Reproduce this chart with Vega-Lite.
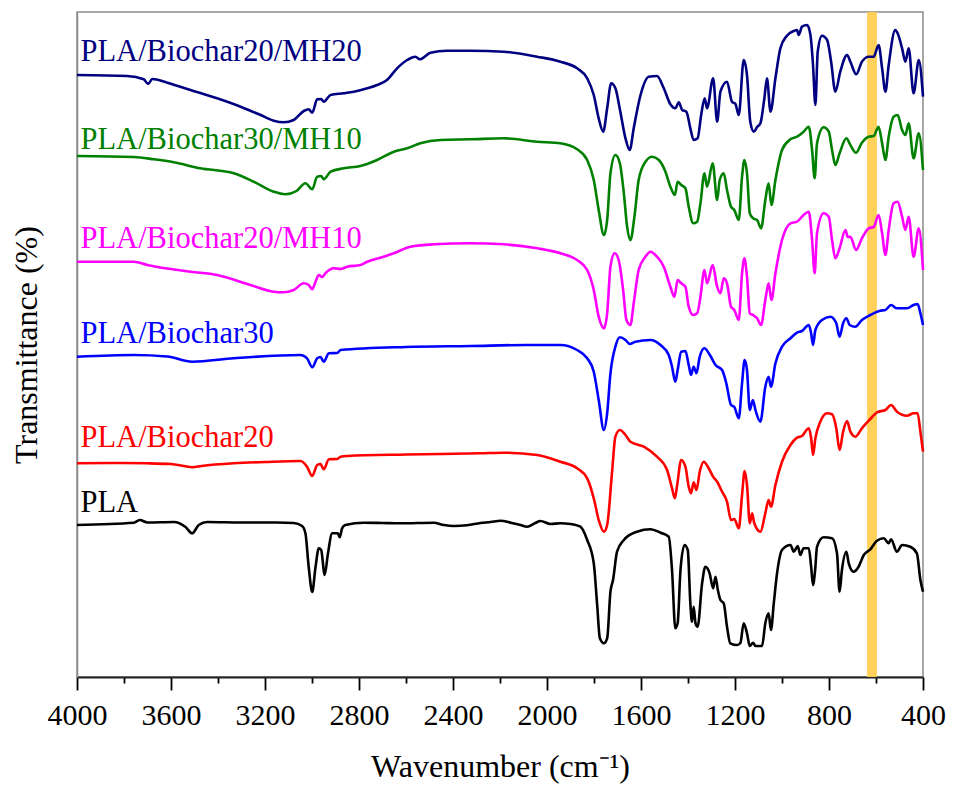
{
  "$schema": "https://vega.github.io/schema/vega-lite/v6.json",
  "width": 846,
  "height": 665,
  "autosize": {"type": "none"},
  "padding": {"left": 77, "top": 12, "right": 32, "bottom": 116},
  "config": {
    "view": {"stroke": "#8c8c8c", "strokeWidth": 1.5},
    "font": "Liberation Serif"
  },
  "datasets": {
    "band": [{"w": 638, "w2": 596}],
    "labels": [
      {"s": "PLA/Biochar20/MH20", "w": 3985, "t": 616},
      {"s": "PLA/Biochar30/MH10", "w": 3985, "t": 527.7},
      {"s": "PLA/Biochar20/MH10", "w": 3985, "t": 428.7},
      {"s": "PLA/Biochar30", "w": 3985, "t": 334.3},
      {"s": "PLA/Biochar20", "w": 3985, "t": 229.7},
      {"s": "PLA", "w": 3985, "t": 164.7}
    ],
    "spectra": [
      {"s":"PLA","w":4000,"t":152},{"s":"PLA","w":3758,"t":154.3},{"s":"PLA","w":3733,"t":157},{"s":"PLA","w":3700,"t":154.5},{"s":"PLA","w":3588,"t":155},{"s":"PLA","w":3538,"t":150},{"s":"PLA","w":3510,"t":143.7},{"s":"PLA","w":3482,"t":152},{"s":"PLA","w":3446,"t":155},{"s":"PLA","w":3300,"t":154.5},{"s":"PLA","w":3150,"t":154.5},{"s":"PLA","w":3078,"t":154},{"s":"PLA","w":3042,"t":151},{"s":"PLA","w":3028,"t":143.7},{"s":"PLA","w":3014,"t":110},{"s":"PLA","w":2999,"t":85},{"s":"PLA","w":2985,"t":110},{"s":"PLA","w":2971,"t":128.7},{"s":"PLA","w":2961,"t":127},{"s":"PLA","w":2946,"t":102},{"s":"PLA","w":2933,"t":122},{"s":"PLA","w":2914,"t":143.7},{"s":"PLA","w":2890,"t":143.7},{"s":"PLA","w":2882,"t":139.7},{"s":"PLA","w":2872,"t":148.7},{"s":"PLA","w":2858,"t":152},{"s":"PLA","w":2780,"t":154.3},{"s":"PLA","w":2700,"t":154},{"s":"PLA","w":2624,"t":153.7},{"s":"PLA","w":2482,"t":154.3},{"s":"PLA","w":2439,"t":152},{"s":"PLA","w":2397,"t":151},{"s":"PLA","w":2340,"t":151.7},{"s":"PLA","w":2283,"t":154},{"s":"PLA","w":2240,"t":155},{"s":"PLA","w":2198,"t":156.3},{"s":"PLA","w":2150,"t":154},{"s":"PLA","w":2113,"t":152},{"s":"PLA","w":2085,"t":150.3},{"s":"PLA","w":2050,"t":154},{"s":"PLA","w":2028,"t":156},{"s":"PLA","w":1985,"t":153},{"s":"PLA","w":1943,"t":153.7},{"s":"PLA","w":1900,"t":153},{"s":"PLA","w":1858,"t":150.3},{"s":"PLA","w":1829,"t":137},{"s":"PLA","w":1801,"t":113.7},{"s":"PLA","w":1787,"t":73.7},{"s":"PLA","w":1775,"t":38.7},{"s":"PLA","w":1758,"t":33.7},{"s":"PLA","w":1744,"t":38.7},{"s":"PLA","w":1730,"t":85.3},{"s":"PLA","w":1719,"t":97},{"s":"PLA","w":1702,"t":125.3},{"s":"PLA","w":1673,"t":137},{"s":"PLA","w":1617,"t":145.3},{"s":"PLA","w":1560,"t":147.7},{"s":"PLA","w":1517,"t":144.3},{"s":"PLA","w":1482,"t":140.3},{"s":"PLA","w":1468,"t":107},{"s":"PLA","w":1454,"t":48.7},{"s":"PLA","w":1444,"t":53.7},{"s":"PLA","w":1432,"t":107},{"s":"PLA","w":1415,"t":132},{"s":"PLA","w":1401,"t":127},{"s":"PLA","w":1390,"t":73.7},{"s":"PLA","w":1383,"t":55.3},{"s":"PLA","w":1376,"t":70.3},{"s":"PLA","w":1368,"t":53.7},{"s":"PLA","w":1359,"t":50.3},{"s":"PLA","w":1340,"t":93.7},{"s":"PLA","w":1326,"t":110.3},{"s":"PLA","w":1308,"t":103.7},{"s":"PLA","w":1293,"t":88.7},{"s":"PLA","w":1283,"t":100.3},{"s":"PLA","w":1273,"t":87},{"s":"PLA","w":1262,"t":77},{"s":"PLA","w":1248,"t":73.7},{"s":"PLA","w":1234,"t":50.3},{"s":"PLA","w":1220,"t":33.7},{"s":"PLA","w":1191,"t":32},{"s":"PLA","w":1177,"t":34},{"s":"PLA","w":1163,"t":53.7},{"s":"PLA","w":1149,"t":43.7},{"s":"PLA","w":1137,"t":31},{"s":"PLA","w":1123,"t":34.3},{"s":"PLA","w":1113,"t":31},{"s":"PLA","w":1085,"t":31},{"s":"PLA","w":1071,"t":53.7},{"s":"PLA","w":1057,"t":63.7},{"s":"PLA","w":1047,"t":47},{"s":"PLA","w":1035,"t":73.7},{"s":"PLA","w":1021,"t":103.7},{"s":"PLA","w":1000,"t":127},{"s":"PLA","w":964,"t":132},{"s":"PLA","w":950,"t":125.3},{"s":"PLA","w":933,"t":131},{"s":"PLA","w":922,"t":122},{"s":"PLA","w":908,"t":128.7},{"s":"PLA","w":886,"t":128.7},{"s":"PLA","w":876,"t":110.3},{"s":"PLA","w":868,"t":92},{"s":"PLA","w":859,"t":107},{"s":"PLA","w":851,"t":130.3},{"s":"PLA","w":823,"t":139.7},{"s":"PLA","w":787,"t":138.7},{"s":"PLA","w":766,"t":123.7},{"s":"PLA","w":755,"t":85.3},{"s":"PLA","w":745,"t":107},{"s":"PLA","w":726,"t":125.3},{"s":"PLA","w":716,"t":113.7},{"s":"PLA","w":695,"t":105.3},{"s":"PLA","w":674,"t":110.3},{"s":"PLA","w":652,"t":122},{"s":"PLA","w":624,"t":127.7},{"s":"PLA","w":596,"t":136.3},{"s":"PLA","w":567,"t":138.7},{"s":"PLA","w":546,"t":133.7},{"s":"PLA","w":536,"t":137.7},{"s":"PLA","w":511,"t":125.3},{"s":"PLA","w":489,"t":132},{"s":"PLA","w":454,"t":130.3},{"s":"PLA","w":426,"t":123.7},{"s":"PLA","w":411,"t":97},{"s":"PLA","w":400,"t":85.3},

      {"s":"PLA/Biochar20","w":4000,"t":213.7},{"s":"PLA/Biochar20","w":3850,"t":214},{"s":"PLA/Biochar20","w":3701,"t":213.7},{"s":"PLA/Biochar20","w":3600,"t":213},{"s":"PLA/Biochar20","w":3545,"t":211},{"s":"PLA/Biochar20","w":3510,"t":209.7},{"s":"PLA/Biochar20","w":3470,"t":211},{"s":"PLA/Biochar20","w":3333,"t":213.7},{"s":"PLA/Biochar20","w":3200,"t":215},{"s":"PLA/Biochar20","w":3049,"t":216},{"s":"PLA/Biochar20","w":3021,"t":210.3},{"s":"PLA/Biochar20","w":2999,"t":201},{"s":"PLA/Biochar20","w":2978,"t":212},{"s":"PLA/Biochar20","w":2964,"t":213},{"s":"PLA/Biochar20","w":2950,"t":207.7},{"s":"PLA/Biochar20","w":2928,"t":217.7},{"s":"PLA/Biochar20","w":2893,"t":218},{"s":"PLA/Biochar20","w":2878,"t":220.3},{"s":"PLA/Biochar20","w":2850,"t":221},{"s":"PLA/Biochar20","w":2600,"t":222.5},{"s":"PLA/Biochar20","w":2283,"t":223.7},{"s":"PLA/Biochar20","w":2184,"t":224.3},{"s":"PLA/Biochar20","w":2042,"t":222},{"s":"PLA/Biochar20","w":1943,"t":215.3},{"s":"PLA/Biochar20","w":1872,"t":208.7},{"s":"PLA/Biochar20","w":1829,"t":198.7},{"s":"PLA/Biochar20","w":1801,"t":178.7},{"s":"PLA/Biochar20","w":1780,"t":157},{"s":"PLA/Biochar20","w":1758,"t":145.3},{"s":"PLA/Biochar20","w":1744,"t":152},{"s":"PLA/Biochar20","w":1723,"t":205.3},{"s":"PLA/Biochar20","w":1709,"t":240.3},{"s":"PLA/Biochar20","w":1690,"t":247},{"s":"PLA/Biochar20","w":1666,"t":242},{"s":"PLA/Biochar20","w":1645,"t":235.3},{"s":"PLA/Biochar20","w":1588,"t":230.3},{"s":"PLA/Biochar20","w":1532,"t":220.3},{"s":"PLA/Biochar20","w":1489,"t":207},{"s":"PLA/Biochar20","w":1468,"t":188.7},{"s":"PLA/Biochar20","w":1456,"t":178.7},{"s":"PLA/Biochar20","w":1446,"t":192},{"s":"PLA/Biochar20","w":1429,"t":217},{"s":"PLA/Biochar20","w":1411,"t":210.3},{"s":"PLA/Biochar20","w":1397,"t":190.3},{"s":"PLA/Biochar20","w":1387,"t":183.7},{"s":"PLA/Biochar20","w":1376,"t":194.7},{"s":"PLA/Biochar20","w":1364,"t":187},{"s":"PLA/Biochar20","w":1350,"t":205.3},{"s":"PLA/Biochar20","w":1333,"t":215.3},{"s":"PLA/Biochar20","w":1312,"t":208.7},{"s":"PLA/Biochar20","w":1293,"t":200.3},{"s":"PLA/Biochar20","w":1276,"t":195.3},{"s":"PLA/Biochar20","w":1255,"t":185.3},{"s":"PLA/Biochar20","w":1234,"t":175.3},{"s":"PLA/Biochar20","w":1217,"t":157},{"s":"PLA/Biochar20","w":1203,"t":158},{"s":"PLA/Biochar20","w":1184,"t":148.7},{"s":"PLA/Biochar20","w":1170,"t":182},{"s":"PLA/Biochar20","w":1159,"t":206},{"s":"PLA/Biochar20","w":1149,"t":192},{"s":"PLA/Biochar20","w":1137,"t":153.7},{"s":"PLA/Biochar20","w":1127,"t":163.7},{"s":"PLA/Biochar20","w":1118,"t":153.7},{"s":"PLA/Biochar20","w":1092,"t":145.3},{"s":"PLA/Biochar20","w":1071,"t":163.7},{"s":"PLA/Biochar20","w":1057,"t":177},{"s":"PLA/Biochar20","w":1047,"t":170.3},{"s":"PLA/Biochar20","w":1028,"t":192},{"s":"PLA/Biochar20","w":1000,"t":215.3},{"s":"PLA/Biochar20","w":964,"t":232},{"s":"PLA/Biochar20","w":936,"t":239.3},{"s":"PLA/Biochar20","w":915,"t":241},{"s":"PLA/Biochar20","w":886,"t":248.7},{"s":"PLA/Biochar20","w":876,"t":238.7},{"s":"PLA/Biochar20","w":868,"t":222},{"s":"PLA/Biochar20","w":858,"t":238.7},{"s":"PLA/Biochar20","w":837,"t":255.3},{"s":"PLA/Biochar20","w":808,"t":263.7},{"s":"PLA/Biochar20","w":787,"t":262.7},{"s":"PLA/Biochar20","w":769,"t":248.7},{"s":"PLA/Biochar20","w":755,"t":227},{"s":"PLA/Biochar20","w":740,"t":245.3},{"s":"PLA/Biochar20","w":723,"t":256},{"s":"PLA/Biochar20","w":709,"t":245.3},{"s":"PLA/Biochar20","w":688,"t":240.3},{"s":"PLA/Biochar20","w":660,"t":248.7},{"s":"PLA/Biochar20","w":624,"t":258},{"s":"PLA/Biochar20","w":596,"t":264.7},{"s":"PLA/Biochar20","w":560,"t":267},{"s":"PLA/Biochar20","w":536,"t":272},{"s":"PLA/Biochar20","w":511,"t":265.3},{"s":"PLA/Biochar20","w":468,"t":261.3},{"s":"PLA/Biochar20","w":440,"t":263.7},{"s":"PLA/Biochar20","w":423,"t":263.7},{"s":"PLA/Biochar20","w":411,"t":245.3},{"s":"PLA/Biochar20","w":400,"t":225.3},

      {"s":"PLA/Biochar30","w":4000,"t":320.3},{"s":"PLA/Biochar30","w":3758,"t":322},{"s":"PLA/Biochar30","w":3616,"t":320.5},{"s":"PLA/Biochar30","w":3510,"t":315.3},{"s":"PLA/Biochar30","w":3333,"t":318.7},{"s":"PLA/Biochar30","w":3049,"t":322},{"s":"PLA/Biochar30","w":3021,"t":318.7},{"s":"PLA/Biochar30","w":2999,"t":309.7},{"s":"PLA/Biochar30","w":2978,"t":318.7},{"s":"PLA/Biochar30","w":2964,"t":320},{"s":"PLA/Biochar30","w":2950,"t":315.3},{"s":"PLA/Biochar30","w":2928,"t":323.7},{"s":"PLA/Biochar30","w":2893,"t":324},{"s":"PLA/Biochar30","w":2878,"t":327},{"s":"PLA/Biochar30","w":2600,"t":330},{"s":"PLA/Biochar30","w":2326,"t":331},{"s":"PLA/Biochar30","w":2085,"t":332},{"s":"PLA/Biochar30","w":1943,"t":332},{"s":"PLA/Biochar30","w":1872,"t":327},{"s":"PLA/Biochar30","w":1829,"t":318.7},{"s":"PLA/Biochar30","w":1801,"t":305.3},{"s":"PLA/Biochar30","w":1780,"t":277},{"s":"PLA/Biochar30","w":1758,"t":247},{"s":"PLA/Biochar30","w":1744,"t":263.7},{"s":"PLA/Biochar30","w":1730,"t":303.7},{"s":"PLA/Biochar30","w":1709,"t":330.3},{"s":"PLA/Biochar30","w":1690,"t":339.7},{"s":"PLA/Biochar30","w":1666,"t":337},{"s":"PLA/Biochar30","w":1648,"t":333},{"s":"PLA/Biochar30","w":1624,"t":335.3},{"s":"PLA/Biochar30","w":1560,"t":337},{"s":"PLA/Biochar30","w":1517,"t":332},{"s":"PLA/Biochar30","w":1482,"t":322},{"s":"PLA/Biochar30","w":1468,"t":310.3},{"s":"PLA/Biochar30","w":1454,"t":295.3},{"s":"PLA/Biochar30","w":1444,"t":307},{"s":"PLA/Biochar30","w":1429,"t":325.3},{"s":"PLA/Biochar30","w":1411,"t":326},{"s":"PLA/Biochar30","w":1397,"t":312},{"s":"PLA/Biochar30","w":1387,"t":302},{"s":"PLA/Biochar30","w":1376,"t":310.3},{"s":"PLA/Biochar30","w":1364,"t":303.7},{"s":"PLA/Biochar30","w":1350,"t":320.3},{"s":"PLA/Biochar30","w":1330,"t":328.7},{"s":"PLA/Biochar30","w":1307,"t":322},{"s":"PLA/Biochar30","w":1283,"t":312},{"s":"PLA/Biochar30","w":1255,"t":307},{"s":"PLA/Biochar30","w":1237,"t":293.7},{"s":"PLA/Biochar30","w":1217,"t":272},{"s":"PLA/Biochar30","w":1203,"t":270},{"s":"PLA/Biochar30","w":1184,"t":258.7},{"s":"PLA/Biochar30","w":1170,"t":293.7},{"s":"PLA/Biochar30","w":1159,"t":317},{"s":"PLA/Biochar30","w":1149,"t":307},{"s":"PLA/Biochar30","w":1137,"t":267},{"s":"PLA/Biochar30","w":1124,"t":277},{"s":"PLA/Biochar30","w":1113,"t":267},{"s":"PLA/Biochar30","w":1092,"t":255.3},{"s":"PLA/Biochar30","w":1071,"t":290.3},{"s":"PLA/Biochar30","w":1057,"t":300.3},{"s":"PLA/Biochar30","w":1047,"t":290.3},{"s":"PLA/Biochar30","w":1028,"t":313.7},{"s":"PLA/Biochar30","w":1000,"t":330.3},{"s":"PLA/Biochar30","w":964,"t":338.7},{"s":"PLA/Biochar30","w":936,"t":344.3},{"s":"PLA/Biochar30","w":915,"t":346},{"s":"PLA/Biochar30","w":886,"t":352},{"s":"PLA/Biochar30","w":876,"t":343.7},{"s":"PLA/Biochar30","w":868,"t":332},{"s":"PLA/Biochar30","w":858,"t":347},{"s":"PLA/Biochar30","w":830,"t":357},{"s":"PLA/Biochar30","w":794,"t":360.3},{"s":"PLA/Biochar30","w":769,"t":353.7},{"s":"PLA/Biochar30","w":755,"t":340.3},{"s":"PLA/Biochar30","w":740,"t":353.7},{"s":"PLA/Biochar30","w":726,"t":358.7},{"s":"PLA/Biochar30","w":712,"t":352},{"s":"PLA/Biochar30","w":688,"t":350.3},{"s":"PLA/Biochar30","w":660,"t":357},{"s":"PLA/Biochar30","w":624,"t":362},{"s":"PLA/Biochar30","w":582,"t":366.3},{"s":"PLA/Biochar30","w":560,"t":367},{"s":"PLA/Biochar30","w":536,"t":372},{"s":"PLA/Biochar30","w":511,"t":368.7},{"s":"PLA/Biochar30","w":468,"t":368.7},{"s":"PLA/Biochar30","w":440,"t":372},{"s":"PLA/Biochar30","w":423,"t":373},{"s":"PLA/Biochar30","w":411,"t":363.7},{"s":"PLA/Biochar30","w":400,"t":352},

      {"s":"PLA/Biochar20/MH10","w":4000,"t":415.3},{"s":"PLA/Biochar20/MH10","w":3758,"t":415.3},{"s":"PLA/Biochar20/MH10","w":3701,"t":412},{"s":"PLA/Biochar20/MH10","w":3517,"t":405.3},{"s":"PLA/Biochar20/MH10","w":3404,"t":402},{"s":"PLA/Biochar20/MH10","w":3262,"t":392},{"s":"PLA/Biochar20/MH10","w":3163,"t":385.3},{"s":"PLA/Biochar20/MH10","w":3120,"t":384.7},{"s":"PLA/Biochar20/MH10","w":3078,"t":387},{"s":"PLA/Biochar20/MH10","w":3035,"t":393.7},{"s":"PLA/Biochar20/MH10","w":3014,"t":392},{"s":"PLA/Biochar20/MH10","w":2999,"t":387.7},{"s":"PLA/Biochar20/MH10","w":2985,"t":395.3},{"s":"PLA/Biochar20/MH10","w":2971,"t":402},{"s":"PLA/Biochar20/MH10","w":2957,"t":400},{"s":"PLA/Biochar20/MH10","w":2943,"t":403.7},{"s":"PLA/Biochar20/MH10","w":2907,"t":408.7},{"s":"PLA/Biochar20/MH10","w":2878,"t":408},{"s":"PLA/Biochar20/MH10","w":2850,"t":410.3},{"s":"PLA/Biochar20/MH10","w":2794,"t":412},{"s":"PLA/Biochar20/MH10","w":2765,"t":415.3},{"s":"PLA/Biochar20/MH10","w":2695,"t":420.3},{"s":"PLA/Biochar20/MH10","w":2652,"t":423.7},{"s":"PLA/Biochar20/MH10","w":2581,"t":430.3},{"s":"PLA/Biochar20/MH10","w":2482,"t":432.7},{"s":"PLA/Biochar20/MH10","w":2326,"t":433.7},{"s":"PLA/Biochar20/MH10","w":2184,"t":432.7},{"s":"PLA/Biochar20/MH10","w":2042,"t":428.7},{"s":"PLA/Biochar20/MH10","w":1943,"t":423.7},{"s":"PLA/Biochar20/MH10","w":1872,"t":417},{"s":"PLA/Biochar20/MH10","w":1829,"t":407},{"s":"PLA/Biochar20/MH10","w":1801,"t":387},{"s":"PLA/Biochar20/MH10","w":1780,"t":360.3},{"s":"PLA/Biochar20/MH10","w":1758,"t":348.7},{"s":"PLA/Biochar20/MH10","w":1744,"t":363.7},{"s":"PLA/Biochar20/MH10","w":1730,"t":410.3},{"s":"PLA/Biochar20/MH10","w":1712,"t":423.7},{"s":"PLA/Biochar20/MH10","w":1695,"t":417},{"s":"PLA/Biochar20/MH10","w":1676,"t":387},{"s":"PLA/Biochar20/MH10","w":1662,"t":357},{"s":"PLA/Biochar20/MH10","w":1645,"t":352},{"s":"PLA/Biochar20/MH10","w":1631,"t":373.7},{"s":"PLA/Biochar20/MH10","w":1610,"t":407},{"s":"PLA/Biochar20/MH10","w":1581,"t":420.3},{"s":"PLA/Biochar20/MH10","w":1560,"t":425.3},{"s":"PLA/Biochar20/MH10","w":1532,"t":420.3},{"s":"PLA/Biochar20/MH10","w":1503,"t":410.3},{"s":"PLA/Biochar20/MH10","w":1475,"t":390.3},{"s":"PLA/Biochar20/MH10","w":1458,"t":380.3},{"s":"PLA/Biochar20/MH10","w":1444,"t":397},{"s":"PLA/Biochar20/MH10","w":1429,"t":393.7},{"s":"PLA/Biochar20/MH10","w":1411,"t":390.3},{"s":"PLA/Biochar20/MH10","w":1397,"t":370.3},{"s":"PLA/Biochar20/MH10","w":1378,"t":362},{"s":"PLA/Biochar20/MH10","w":1361,"t":363.7},{"s":"PLA/Biochar20/MH10","w":1347,"t":380.3},{"s":"PLA/Biochar20/MH10","w":1330,"t":407},{"s":"PLA/Biochar20/MH10","w":1319,"t":393.7},{"s":"PLA/Biochar20/MH10","w":1295,"t":412},{"s":"PLA/Biochar20/MH10","w":1276,"t":390.3},{"s":"PLA/Biochar20/MH10","w":1262,"t":383.7},{"s":"PLA/Biochar20/MH10","w":1248,"t":398.7},{"s":"PLA/Biochar20/MH10","w":1234,"t":393.7},{"s":"PLA/Biochar20/MH10","w":1217,"t":370.3},{"s":"PLA/Biochar20/MH10","w":1203,"t":367},{"s":"PLA/Biochar20/MH10","w":1184,"t":357},{"s":"PLA/Biochar20/MH10","w":1170,"t":403.7},{"s":"PLA/Biochar20/MH10","w":1160,"t":418.7},{"s":"PLA/Biochar20/MH10","w":1149,"t":400.3},{"s":"PLA/Biochar20/MH10","w":1137,"t":363.7},{"s":"PLA/Biochar20/MH10","w":1123,"t":362},{"s":"PLA/Biochar20/MH10","w":1106,"t":358.7},{"s":"PLA/Biochar20/MH10","w":1089,"t":352},{"s":"PLA/Biochar20/MH10","w":1071,"t":377},{"s":"PLA/Biochar20/MH10","w":1057,"t":393.7},{"s":"PLA/Biochar20/MH10","w":1045,"t":377},{"s":"PLA/Biochar20/MH10","w":1028,"t":403.7},{"s":"PLA/Biochar20/MH10","w":1000,"t":437},{"s":"PLA/Biochar20/MH10","w":964,"t":453.7},{"s":"PLA/Biochar20/MH10","w":936,"t":455.3},{"s":"PLA/Biochar20/MH10","w":908,"t":462},{"s":"PLA/Biochar20/MH10","w":886,"t":465.3},{"s":"PLA/Biochar20/MH10","w":872,"t":437},{"s":"PLA/Biochar20/MH10","w":861,"t":403.7},{"s":"PLA/Biochar20/MH10","w":851,"t":443.7},{"s":"PLA/Biochar20/MH10","w":823,"t":463.7},{"s":"PLA/Biochar20/MH10","w":801,"t":460.3},{"s":"PLA/Biochar20/MH10","w":787,"t":437},{"s":"PLA/Biochar20/MH10","w":773,"t":418.7},{"s":"PLA/Biochar20/MH10","w":755,"t":428.7},{"s":"PLA/Biochar20/MH10","w":730,"t":447},{"s":"PLA/Biochar20/MH10","w":720,"t":440},{"s":"PLA/Biochar20/MH10","w":709,"t":440.3},{"s":"PLA/Biochar20/MH10","w":685,"t":427},{"s":"PLA/Biochar20/MH10","w":660,"t":438.7},{"s":"PLA/Biochar20/MH10","w":631,"t":448.7},{"s":"PLA/Biochar20/MH10","w":610,"t":450},{"s":"PLA/Biochar20/MH10","w":589,"t":462},{"s":"PLA/Biochar20/MH10","w":574,"t":443.7},{"s":"PLA/Biochar20/MH10","w":560,"t":422},{"s":"PLA/Biochar20/MH10","w":546,"t":447},{"s":"PLA/Biochar20/MH10","w":525,"t":473.7},{"s":"PLA/Biochar20/MH10","w":508,"t":475.3},{"s":"PLA/Biochar20/MH10","w":489,"t":460.3},{"s":"PLA/Biochar20/MH10","w":475,"t":447},{"s":"PLA/Biochar20/MH10","w":461,"t":460.3},{"s":"PLA/Biochar20/MH10","w":440,"t":420.3},{"s":"PLA/Biochar20/MH10","w":418,"t":448.7},{"s":"PLA/Biochar20/MH10","w":400,"t":407},

      {"s":"PLA/Biochar30/MH10","w":4000,"t":521},{"s":"PLA/Biochar30/MH10","w":3758,"t":520},{"s":"PLA/Biochar30/MH10","w":3673,"t":517.7},{"s":"PLA/Biochar30/MH10","w":3588,"t":514.7},{"s":"PLA/Biochar30/MH10","w":3475,"t":508.7},{"s":"PLA/Biochar30/MH10","w":3333,"t":503.7},{"s":"PLA/Biochar30/MH10","w":3248,"t":495.3},{"s":"PLA/Biochar30/MH10","w":3163,"t":485.3},{"s":"PLA/Biochar30/MH10","w":3113,"t":482.7},{"s":"PLA/Biochar30/MH10","w":3066,"t":486},{"s":"PLA/Biochar30/MH10","w":3028,"t":493.7},{"s":"PLA/Biochar30/MH10","w":2999,"t":487.7},{"s":"PLA/Biochar30/MH10","w":2978,"t":500.3},{"s":"PLA/Biochar30/MH10","w":2961,"t":501},{"s":"PLA/Biochar30/MH10","w":2950,"t":497.7},{"s":"PLA/Biochar30/MH10","w":2921,"t":505.3},{"s":"PLA/Biochar30/MH10","w":2865,"t":508.7},{"s":"PLA/Biochar30/MH10","w":2794,"t":511},{"s":"PLA/Biochar30/MH10","w":2723,"t":517},{"s":"PLA/Biochar30/MH10","w":2652,"t":525.3},{"s":"PLA/Biochar30/MH10","w":2595,"t":528.7},{"s":"PLA/Biochar30/MH10","w":2539,"t":533.7},{"s":"PLA/Biochar30/MH10","w":2453,"t":537},{"s":"PLA/Biochar30/MH10","w":2326,"t":537.7},{"s":"PLA/Biochar30/MH10","w":2184,"t":538.7},{"s":"PLA/Biochar30/MH10","w":2042,"t":535.3},{"s":"PLA/Biochar30/MH10","w":1943,"t":533.7},{"s":"PLA/Biochar30/MH10","w":1872,"t":527.7},{"s":"PLA/Biochar30/MH10","w":1829,"t":517},{"s":"PLA/Biochar30/MH10","w":1801,"t":497},{"s":"PLA/Biochar30/MH10","w":1780,"t":467},{"s":"PLA/Biochar30/MH10","w":1758,"t":442},{"s":"PLA/Biochar30/MH10","w":1744,"t":457},{"s":"PLA/Biochar30/MH10","w":1730,"t":503.7},{"s":"PLA/Biochar30/MH10","w":1709,"t":522},{"s":"PLA/Biochar30/MH10","w":1690,"t":513.7},{"s":"PLA/Biochar30/MH10","w":1673,"t":483.7},{"s":"PLA/Biochar30/MH10","w":1659,"t":450.3},{"s":"PLA/Biochar30/MH10","w":1645,"t":437},{"s":"PLA/Biochar30/MH10","w":1628,"t":460.3},{"s":"PLA/Biochar30/MH10","w":1610,"t":497},{"s":"PLA/Biochar30/MH10","w":1581,"t":515.3},{"s":"PLA/Biochar30/MH10","w":1553,"t":520.3},{"s":"PLA/Biochar30/MH10","w":1524,"t":517},{"s":"PLA/Biochar30/MH10","w":1496,"t":505.3},{"s":"PLA/Biochar30/MH10","w":1475,"t":490.3},{"s":"PLA/Biochar30/MH10","w":1456,"t":482},{"s":"PLA/Biochar30/MH10","w":1444,"t":495.3},{"s":"PLA/Biochar30/MH10","w":1429,"t":492},{"s":"PLA/Biochar30/MH10","w":1411,"t":488.7},{"s":"PLA/Biochar30/MH10","w":1397,"t":470.3},{"s":"PLA/Biochar30/MH10","w":1378,"t":453.7},{"s":"PLA/Biochar30/MH10","w":1361,"t":455.3},{"s":"PLA/Biochar30/MH10","w":1347,"t":473.7},{"s":"PLA/Biochar30/MH10","w":1330,"t":503.7},{"s":"PLA/Biochar30/MH10","w":1319,"t":490.3},{"s":"PLA/Biochar30/MH10","w":1295,"t":513.7},{"s":"PLA/Biochar30/MH10","w":1276,"t":477},{"s":"PLA/Biochar30/MH10","w":1265,"t":497},{"s":"PLA/Biochar30/MH10","w":1248,"t":503.7},{"s":"PLA/Biochar30/MH10","w":1234,"t":487},{"s":"PLA/Biochar30/MH10","w":1217,"t":470.3},{"s":"PLA/Biochar30/MH10","w":1203,"t":467},{"s":"PLA/Biochar30/MH10","w":1184,"t":457},{"s":"PLA/Biochar30/MH10","w":1170,"t":500.3},{"s":"PLA/Biochar30/MH10","w":1160,"t":517},{"s":"PLA/Biochar30/MH10","w":1149,"t":503.7},{"s":"PLA/Biochar30/MH10","w":1137,"t":463.7},{"s":"PLA/Biochar30/MH10","w":1123,"t":458.7},{"s":"PLA/Biochar30/MH10","w":1106,"t":457},{"s":"PLA/Biochar30/MH10","w":1089,"t":448.7},{"s":"PLA/Biochar30/MH10","w":1071,"t":477},{"s":"PLA/Biochar30/MH10","w":1057,"t":493.7},{"s":"PLA/Biochar30/MH10","w":1045,"t":472},{"s":"PLA/Biochar30/MH10","w":1028,"t":497},{"s":"PLA/Biochar30/MH10","w":1000,"t":527},{"s":"PLA/Biochar30/MH10","w":964,"t":537.7},{"s":"PLA/Biochar30/MH10","w":936,"t":540.3},{"s":"PLA/Biochar30/MH10","w":908,"t":545.3},{"s":"PLA/Biochar30/MH10","w":886,"t":550.3},{"s":"PLA/Biochar30/MH10","w":872,"t":527},{"s":"PLA/Biochar30/MH10","w":861,"t":498.7},{"s":"PLA/Biochar30/MH10","w":851,"t":533.7},{"s":"PLA/Biochar30/MH10","w":823,"t":549.7},{"s":"PLA/Biochar30/MH10","w":801,"t":545.3},{"s":"PLA/Biochar30/MH10","w":787,"t":527},{"s":"PLA/Biochar30/MH10","w":773,"t":512},{"s":"PLA/Biochar30/MH10","w":755,"t":523.7},{"s":"PLA/Biochar30/MH10","w":726,"t":538.7},{"s":"PLA/Biochar30/MH10","w":709,"t":532},{"s":"PLA/Biochar30/MH10","w":685,"t":524.3},{"s":"PLA/Biochar30/MH10","w":660,"t":534.3},{"s":"PLA/Biochar30/MH10","w":631,"t":540.3},{"s":"PLA/Biochar30/MH10","w":610,"t":541},{"s":"PLA/Biochar30/MH10","w":589,"t":550.3},{"s":"PLA/Biochar30/MH10","w":574,"t":533.7},{"s":"PLA/Biochar30/MH10","w":560,"t":517},{"s":"PLA/Biochar30/MH10","w":546,"t":540.3},{"s":"PLA/Biochar30/MH10","w":525,"t":560.3},{"s":"PLA/Biochar30/MH10","w":508,"t":562},{"s":"PLA/Biochar30/MH10","w":489,"t":547},{"s":"PLA/Biochar30/MH10","w":475,"t":542},{"s":"PLA/Biochar30/MH10","w":461,"t":553.7},{"s":"PLA/Biochar30/MH10","w":440,"t":518.7},{"s":"PLA/Biochar30/MH10","w":418,"t":543.7},{"s":"PLA/Biochar30/MH10","w":400,"t":507},

      {"s":"PLA/Biochar20/MH20","w":4000,"t":602},{"s":"PLA/Biochar20/MH20","w":3787,"t":601},{"s":"PLA/Biochar20/MH20","w":3716,"t":597.7},{"s":"PLA/Biochar20/MH20","w":3697,"t":593},{"s":"PLA/Biochar20/MH20","w":3680,"t":598},{"s":"PLA/Biochar20/MH20","w":3616,"t":594.3},{"s":"PLA/Biochar20/MH20","w":3517,"t":587},{"s":"PLA/Biochar20/MH20","w":3404,"t":578.7},{"s":"PLA/Biochar20/MH20","w":3304,"t":570.3},{"s":"PLA/Biochar20/MH20","w":3219,"t":562},{"s":"PLA/Biochar20/MH20","w":3163,"t":556.3},{"s":"PLA/Biochar20/MH20","w":3120,"t":554.7},{"s":"PLA/Biochar20/MH20","w":3078,"t":557},{"s":"PLA/Biochar20/MH20","w":3035,"t":566},{"s":"PLA/Biochar20/MH20","w":3014,"t":567.7},{"s":"PLA/Biochar20/MH20","w":2999,"t":564.3},{"s":"PLA/Biochar20/MH20","w":2978,"t":577.7},{"s":"PLA/Biochar20/MH20","w":2961,"t":578},{"s":"PLA/Biochar20/MH20","w":2950,"t":575.3},{"s":"PLA/Biochar20/MH20","w":2921,"t":582},{"s":"PLA/Biochar20/MH20","w":2865,"t":583.7},{"s":"PLA/Biochar20/MH20","w":2822,"t":585.3},{"s":"PLA/Biochar20/MH20","w":2765,"t":588.7},{"s":"PLA/Biochar20/MH20","w":2723,"t":592},{"s":"PLA/Biochar20/MH20","w":2681,"t":597},{"s":"PLA/Biochar20/MH20","w":2638,"t":608.7},{"s":"PLA/Biochar20/MH20","w":2595,"t":617},{"s":"PLA/Biochar20/MH20","w":2560,"t":620.3},{"s":"PLA/Biochar20/MH20","w":2541,"t":617.7},{"s":"PLA/Biochar20/MH20","w":2496,"t":624.3},{"s":"PLA/Biochar20/MH20","w":2425,"t":626.3},{"s":"PLA/Biochar20/MH20","w":2326,"t":626.3},{"s":"PLA/Biochar20/MH20","w":2184,"t":625.3},{"s":"PLA/Biochar20/MH20","w":2042,"t":620.3},{"s":"PLA/Biochar20/MH20","w":1943,"t":615.3},{"s":"PLA/Biochar20/MH20","w":1872,"t":608.7},{"s":"PLA/Biochar20/MH20","w":1829,"t":598.7},{"s":"PLA/Biochar20/MH20","w":1801,"t":582},{"s":"PLA/Biochar20/MH20","w":1780,"t":558.7},{"s":"PLA/Biochar20/MH20","w":1761,"t":545.3},{"s":"PLA/Biochar20/MH20","w":1744,"t":568.7},{"s":"PLA/Biochar20/MH20","w":1727,"t":593.7},{"s":"PLA/Biochar20/MH20","w":1709,"t":588.7},{"s":"PLA/Biochar20/MH20","w":1688,"t":565.3},{"s":"PLA/Biochar20/MH20","w":1666,"t":538.7},{"s":"PLA/Biochar20/MH20","w":1648,"t":527},{"s":"PLA/Biochar20/MH20","w":1631,"t":548.7},{"s":"PLA/Biochar20/MH20","w":1602,"t":582},{"s":"PLA/Biochar20/MH20","w":1567,"t":600.3},{"s":"PLA/Biochar20/MH20","w":1532,"t":601},{"s":"PLA/Biochar20/MH20","w":1503,"t":588.7},{"s":"PLA/Biochar20/MH20","w":1475,"t":572.7},{"s":"PLA/Biochar20/MH20","w":1454,"t":568.7},{"s":"PLA/Biochar20/MH20","w":1439,"t":574.7},{"s":"PLA/Biochar20/MH20","w":1425,"t":567},{"s":"PLA/Biochar20/MH20","w":1407,"t":565.3},{"s":"PLA/Biochar20/MH20","w":1390,"t":548.7},{"s":"PLA/Biochar20/MH20","w":1376,"t":537},{"s":"PLA/Biochar20/MH20","w":1359,"t":538.7},{"s":"PLA/Biochar20/MH20","w":1344,"t":562},{"s":"PLA/Biochar20/MH20","w":1329,"t":578.7},{"s":"PLA/Biochar20/MH20","w":1319,"t":568.7},{"s":"PLA/Biochar20/MH20","w":1293,"t":598.7},{"s":"PLA/Biochar20/MH20","w":1276,"t":555.3},{"s":"PLA/Biochar20/MH20","w":1262,"t":585.3},{"s":"PLA/Biochar20/MH20","w":1234,"t":595.3},{"s":"PLA/Biochar20/MH20","w":1213,"t":575.3},{"s":"PLA/Biochar20/MH20","w":1198,"t":573},{"s":"PLA/Biochar20/MH20","w":1184,"t":562},{"s":"PLA/Biochar20/MH20","w":1163,"t":617},{"s":"PLA/Biochar20/MH20","w":1149,"t":602},{"s":"PLA/Biochar20/MH20","w":1135,"t":555.3},{"s":"PLA/Biochar20/MH20","w":1120,"t":545.3},{"s":"PLA/Biochar20/MH20","w":1106,"t":550},{"s":"PLA/Biochar20/MH20","w":1092,"t":553.7},{"s":"PLA/Biochar20/MH20","w":1075,"t":578.7},{"s":"PLA/Biochar20/MH20","w":1064,"t":598.7},{"s":"PLA/Biochar20/MH20","w":1049,"t":565.3},{"s":"PLA/Biochar20/MH20","w":1028,"t":598.7},{"s":"PLA/Biochar20/MH20","w":1007,"t":628.7},{"s":"PLA/Biochar20/MH20","w":979,"t":641.3},{"s":"PLA/Biochar20/MH20","w":950,"t":646},{"s":"PLA/Biochar20/MH20","w":936,"t":647},{"s":"PLA/Biochar20/MH20","w":929,"t":642},{"s":"PLA/Biochar20/MH20","w":915,"t":650.3},{"s":"PLA/Biochar20/MH20","w":893,"t":652},{"s":"PLA/Biochar20/MH20","w":879,"t":642},{"s":"PLA/Biochar20/MH20","w":868,"t":612},{"s":"PLA/Biochar20/MH20","w":858,"t":572},{"s":"PLA/Biochar20/MH20","w":848,"t":625.3},{"s":"PLA/Biochar20/MH20","w":830,"t":641.3},{"s":"PLA/Biochar20/MH20","w":808,"t":637},{"s":"PLA/Biochar20/MH20","w":791,"t":615.3},{"s":"PLA/Biochar20/MH20","w":773,"t":585.3},{"s":"PLA/Biochar20/MH20","w":752,"t":605.3},{"s":"PLA/Biochar20/MH20","w":723,"t":622},{"s":"PLA/Biochar20/MH20","w":709,"t":615.3},{"s":"PLA/Biochar20/MH20","w":684,"t":602.7},{"s":"PLA/Biochar20/MH20","w":660,"t":615.3},{"s":"PLA/Biochar20/MH20","w":631,"t":620.3},{"s":"PLA/Biochar20/MH20","w":610,"t":620.3},{"s":"PLA/Biochar20/MH20","w":589,"t":632},{"s":"PLA/Biochar20/MH20","w":574,"t":608.7},{"s":"PLA/Biochar20/MH20","w":560,"t":585.3},{"s":"PLA/Biochar20/MH20","w":546,"t":612},{"s":"PLA/Biochar20/MH20","w":518,"t":647},{"s":"PLA/Biochar20/MH20","w":508,"t":643.7},{"s":"PLA/Biochar20/MH20","w":489,"t":628.7},{"s":"PLA/Biochar20/MH20","w":475,"t":615.3},{"s":"PLA/Biochar20/MH20","w":461,"t":628.7},{"s":"PLA/Biochar20/MH20","w":440,"t":583.7},{"s":"PLA/Biochar20/MH20","w":418,"t":617},{"s":"PLA/Biochar20/MH20","w":400,"t":580.3}
    ]
  },
  "encoding": {
    "x": {
      "field": "w",
      "type": "quantitative",
      "scale": {"domain": [400, 4000], "reverse": true, "nice": false, "zero": false},
      "axis": {
        "title": "Wavenumber (cm⁻¹)",
        "values": [4000, 3800, 3600, 3400, 3200, 3000, 2800, 2600, 2400, 2200, 2000, 1800, 1600, 1400, 1200, 1000, 800, 600, 400],
        "labelExpr": "datum.value % 400 === 0 ? datum.label : ''",
        "format": "d",
        "labelOverlap": false,
        "labelFlush": false,
        "labelFont": "Liberation Serif",
        "labelFontSize": 30,
        "labelColor": "#000000",
        "labelPadding": 10,
        "tickSize": {"condition": {"test": "datum.value % 400 === 0", "value": 13}, "value": 6},
        "tickColor": "#000000",
        "tickWidth": 1.8,
        "domainColor": "#222222",
        "domainWidth": 1.8,
        "grid": false,
        "titleFont": "Liberation Serif",
        "titleFontSize": 32,
        "titleFontWeight": "normal",
        "titleColor": "#000000",
        "titlePadding": 21
      }
    }
  },
  "layer": [
    {
      "data": {"name": "band"},
      "mark": {"type": "rect", "color": "#FFCF52", "opacity": 0.95},
      "encoding": {"x2": {"field": "w2"}}
    },
    {
      "data": {"name": "spectra"},
      "mark": {"type": "line", "strokeWidth": 2.6, "interpolate": "monotone"},
      "encoding": {
        "y": {
          "field": "t",
          "type": "quantitative",
          "scale": {"domain": [0, 665], "nice": false, "zero": false},
          "axis": {
            "title": "Transmittance (%)",
            "labels": false,
            "ticks": false,
            "grid": false,
            "domainColor": "#8c8c8c",
            "domainWidth": 1.5,
            "titleFont": "Liberation Serif",
            "titleFontSize": 32,
            "titleFontWeight": "normal",
            "titleColor": "#000000",
            "titlePadding": 34
          }
        },
        "color": {
          "field": "s",
          "type": "nominal",
          "scale": {
            "domain": ["PLA", "PLA/Biochar20", "PLA/Biochar30", "PLA/Biochar20/MH10", "PLA/Biochar30/MH10", "PLA/Biochar20/MH20"],
            "range": ["#000000", "#FF0000", "#0000FF", "#FF00FF", "#008000", "#000080"]
          },
          "legend": null
        },
        "detail": {"field": "s"}
      }
    },
    {
      "data": {"name": "labels"},
      "mark": {"type": "text", "align": "left", "baseline": "alphabetic", "font": "Liberation Serif", "fontSize": 30.5},
      "encoding": {
        "y": {"field": "t", "type": "quantitative"},
        "text": {"field": "s"},
        "color": {"field": "s", "type": "nominal", "legend": null}
      }
    }
  ]
}
